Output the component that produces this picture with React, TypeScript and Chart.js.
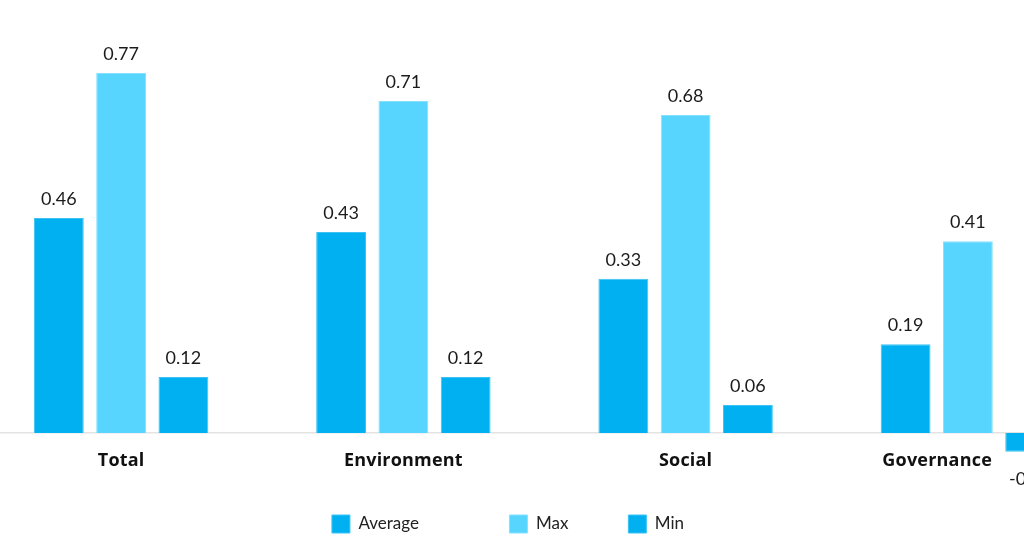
import React, { useEffect, useRef } from "react";
import { Chart, registerables } from "chart.js";

Chart.register(...registerables);

const categories = ["Total", "Environment", "Social", "Governance"];
const seriesNames = ["Average", "Max", "Min"];
const averageValues = [0.46, 0.43, 0.33, 0.19];
const maxValues = [0.77, 0.71, 0.68, 0.41];
const minValues = [0.12, 0.12, 0.06, -0.04];
const seriesFill = ["#00B0F0", "#57D5FF", "#00B0F0"];
const seriesBorder = ["#3CC3F4", "#86E1FF", "#3CC3F4"];
// trailing spaces widen the first legend entry like the reference layout
const legendTrailing = ["       ", "", ""];

const valueLabelPlugin = {
  id: "valueLabels",
  afterDatasetsDraw(chart: any) {
    const ctx = chart.ctx;
    ctx.save();
    ctx.font = "18px Lato";
    ctx.fillStyle = "#1b1b1b";
    ctx.textAlign = "center";
    ctx.textBaseline = "alphabetic";
    chart.data.datasets.forEach((ds: any, di: number) => {
      const meta = chart.getDatasetMeta(di);
      meta.data.forEach((bar: any, i: number) => {
        const v = ds.data[i] as number;
        const label = v.toFixed(2);
        if (v >= 0) {
          ctx.fillText(label, bar.x, bar.y - 13);
        } else {
          ctx.fillText(label, bar.x, bar.y + 33);
        }
      });
    });
    ctx.restore();
  },
};

// category labels drawn under the zero line, the last one kept inside the frame
const categoryLabelPlugin = {
  id: "categoryLabels",
  afterDraw(chart: any) {
    const ctx = chart.ctx;
    const xScale = chart.scales.x;
    const yScale = chart.scales.y;
    const zeroY = yScale.getPixelForValue(0);
    const rightLimit = chart.chartArea.right - 117;
    ctx.save();
    ctx.font = "bold 18px 'Open Sans'";
    (ctx as any).letterSpacing = "0.2px";
    ctx.fillStyle = "#111111";
    ctx.textAlign = "center";
    ctx.textBaseline = "alphabetic";
    categories.forEach((cat, i) => {
      const w = ctx.measureText(cat).width;
      let x = xScale.getPixelForValue(i);
      if (x + w / 2 > rightLimit) x = rightLimit - w / 2;
      ctx.fillText(cat, x, zeroY + 33);
    });
    ctx.restore();
  },
};

export default function App() {
  const canvasRef = useRef<HTMLCanvasElement | null>(null);

  useEffect(() => {
    if (!canvasRef.current) return;
    const values = [averageValues, maxValues, minValues];
    const chart = new Chart(canvasRef.current, {
      type: "bar",
      data: {
        labels: categories,
        datasets: seriesNames.map((name, i) => ({
          label: name,
          data: values[i],
          backgroundColor: seriesFill[i],
          borderColor: seriesBorder[i],
          borderWidth: 1,
          categoryPercentage: 0.662,
          barPercentage: 0.8,
        })),
      },
      options: {
        animation: false,
        responsive: true,
        maintainAspectRatio: false,
        layout: { padding: 0 },
        scales: {
          x: {
            position: { y: 0 } as any,
            grid: { display: false, drawTicks: false },
            border: { display: true, color: "#E3E3E3", width: 1.5 },
            ticks: { display: false },
          },
          y: {
            display: true,
            min: -0.047,
            max: 0.926,
            grid: { display: false },
            border: { display: false },
            ticks: { display: false },
            afterFit(scale: any) {
              scale.width = 73;
            },
          },
        },
        plugins: {
          tooltip: { enabled: false },
          legend: {
            position: "bottom",
            labels: {
              boxWidth: 18,
              boxHeight: 18,
              padding: 60,
              color: "#222222",
              font: { family: "Lato", size: 17 },
              generateLabels(c: any) {
                const items = (Chart.defaults.plugins.legend.labels as any).generateLabels(c);
                return items.map((item: any, i: number) => ({
                  ...item,
                  text: item.text + legendTrailing[i],
                }));
              },
            },
          },
        },
      },
      plugins: [valueLabelPlugin, categoryLabelPlugin],
    });
    return () => chart.destroy();
  }, []);

  return (
    <div
      style={{
        position: "fixed",
        left: 0,
        top: 0,
        width: 1024,
        height: 536,
        overflow: "hidden",
        background: "#ffffff",
      }}
    >
      <div style={{ position: "absolute", left: -93, top: 0, width: 1202, height: 543 }}>
        <canvas ref={canvasRef} />
      </div>
    </div>
  );
}
